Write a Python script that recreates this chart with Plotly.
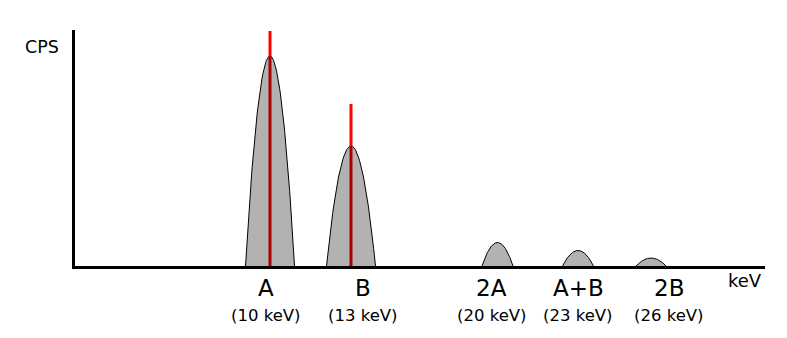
import numpy as np
import plotly.graph_objects as go

# Schematic spectrum: peak positions in arbitrary (schematic) axis units
peak_names = ["A", "B", "2A", "A+B", "2B"]
peak_energy = ["(10 keV)", "(13 keV)", "(20 keV)", "(23 keV)", "(26 keV)"]
peak_center = [195, 276, 422.5, 503, 576]
peak_halfwidth = [24.5, 24.5, 15.5, 15.5, 15]
peak_height = [210, 120, 23.5, 15.5, 8]
label_pos = [191, 288, 417, 503, 594]

# Red marker lines at the primary peaks (index into the peaks above)
line_peak = [0, 1]
line_height = [235, 162]

X_RANGE = [0, 690]
Y_RANGE = [0, 236]

fig = go.Figure()

for c, w, h in zip(peak_center, peak_halfwidth, peak_height):
    xs = np.linspace(c - w, c + w, 81)
    ys = h * (1 - ((xs - c) / w) ** 2)
    fig.add_trace(go.Scatter(x=xs, y=ys, mode="lines", fill="toself",
                             fillcolor="rgba(0,0,0,0.3)",
                             line=dict(color="black", width=1),
                             hoverinfo="skip", showlegend=False))

for i, h in zip(line_peak, line_height):
    c = peak_center[i]
    ph = peak_height[i]
    # part above the peak: pure red
    fig.add_trace(go.Scatter(x=[c, c], y=[ph, h], mode="lines",
                             line=dict(color="rgb(255,0,0)", width=3),
                             hoverinfo="skip", showlegend=False))
    # part seen through the translucent grey peak: darkened red
    fig.add_trace(go.Scatter(x=[c, c], y=[0, ph], mode="lines",
                             line=dict(color="rgb(172,0,0)", width=3),
                             hoverinfo="skip", showlegend=False))


def px(v):
    return (v - X_RANGE[0]) / (X_RANGE[1] - X_RANGE[0])


def py(v):
    return (v - Y_RANGE[0]) / (Y_RANGE[1] - Y_RANGE[0])


font_main = "DejaVu Sans, Verdana, sans-serif"
annotations = []
for name, en, lx in zip(peak_names, peak_energy, label_pos):
    annotations.append(dict(x=px(lx), y=py(-21.5), xref="paper", yref="paper", text=name,
                            showarrow=False, font=dict(size=23, color="black", family=font_main),
                            xanchor="center", yanchor="middle"))
    annotations.append(dict(x=px(lx), y=py(-49), xref="paper", yref="paper", text=en,
                            showarrow=False, font=dict(size=16.5, color="black", family=font_main),
                            xanchor="center", yanchor="middle"))
annotations.append(dict(x=px(670), y=py(-14), xref="paper", yref="paper", text="keV",
                        showarrow=False, font=dict(size=18, color="black", family=font_main),
                        xanchor="center", yanchor="middle"))
annotations.append(dict(x=px(-33), y=py(219), xref="paper", yref="paper", text="CPS",
                        showarrow=False, font=dict(size=17.5, color="black", family=font_main),
                        xanchor="center", yanchor="middle"))

fig.update_layout(
    width=787, height=338,
    margin=dict(l=75, r=22, t=30, b=72),
    paper_bgcolor="white", plot_bgcolor="white",
    xaxis=dict(range=X_RANGE, showgrid=False, zeroline=False, showticklabels=False,
               ticks="", showline=True, linecolor="black", linewidth=3, fixedrange=True),
    yaxis=dict(range=Y_RANGE, showgrid=False, zeroline=False, showticklabels=False,
               ticks="", showline=True, linecolor="black", linewidth=3, fixedrange=True),
    annotations=annotations,
    showlegend=False,
)

fig.write_html("out.html")
